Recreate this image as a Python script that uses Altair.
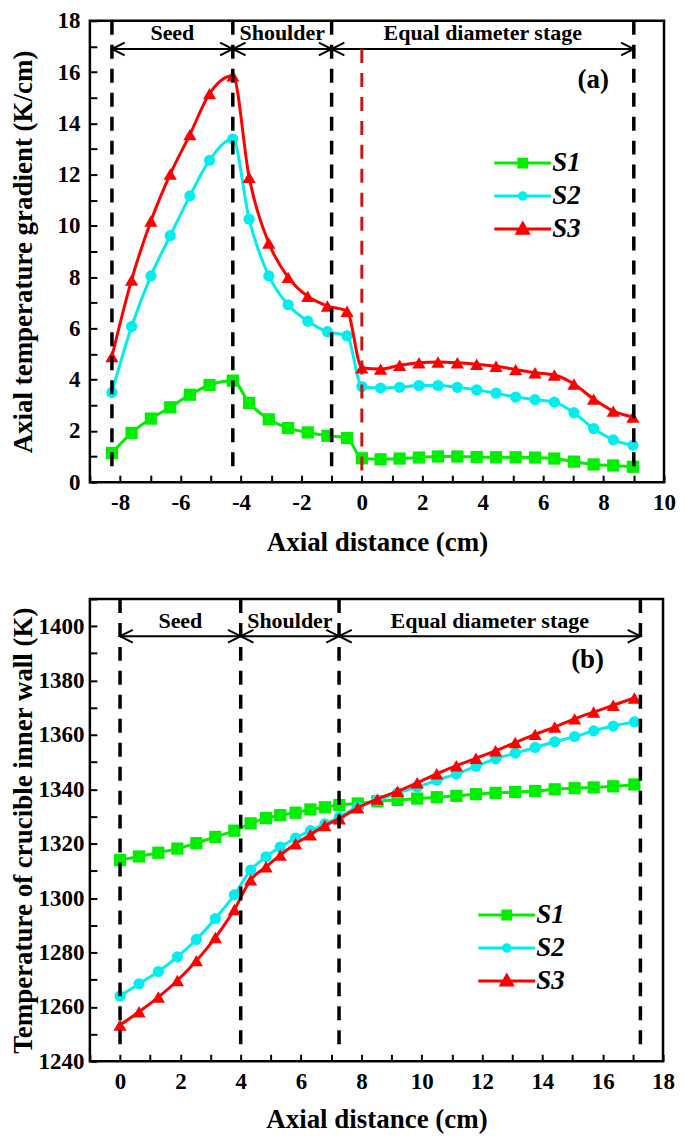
import altair as alt
import pandas as pd

FONT = "Liberation Serif"

# ---------------- data ----------------
series = ["S1", "S2", "S3"]
colors = ["#00EE00", "#00EEEE", "#FF0000"]
marker_shapes = ["square", "circle", "triangle-up"]
marker_sizes = [150, 125, 175]
# legend glyphs: a line with the marker in its middle (marker drawn solid with strokes)
legend_paths = [
    "M-4.75,0H4.75M-0.9,-0.65H0.9M-0.9,-0.22H0.9M-0.9,0.22H0.9M-0.9,0.65H0.9",
    "M-4.75,0H4.75M-0.55,0A0.55,0.55,0,1,1,0.55,0A0.55,0.55,0,1,1,-0.55,0Z"
    "M-0.2,0A0.2,0.2,0,1,1,0.2,0A0.2,0.2,0,1,1,-0.2,0Z",
    "M-4.75,0H4.75M0,-0.9L0.92,0.7H-0.92ZM0,-0.37L0.46,0.43H-0.46Z",
]
stage_names = ["Seed", "Shoulder", "Equal diameter stage"]

# panel (a): axial temperature gradient
xa = [-8.27, -7.62, -6.98, -6.34, -5.69, -5.04, -4.27, -3.73, -3.08, -2.44, -1.79, -1.14, -0.49,
      0.0, 0.62, 1.25, 1.89, 2.52, 3.16, 3.8, 4.44, 5.09, 5.73, 6.37, 7.02, 7.67, 8.32, 8.97]
a_s1 = [1.14, 1.92, 2.48, 2.92, 3.41, 3.79, 3.96, 3.09, 2.45, 2.11, 1.94, 1.81, 1.72,
        0.93, 0.89, 0.92, 0.96, 1.0, 1.0, 0.98, 0.97, 0.97, 0.96, 0.92, 0.80, 0.69, 0.65, 0.60]
a_s2 = [3.50, 6.07, 8.05, 9.62, 11.17, 12.56, 13.39, 10.26, 8.05, 6.92, 6.28, 5.87, 5.71,
        3.73, 3.67, 3.70, 3.77, 3.77, 3.70, 3.60, 3.47, 3.32, 3.22, 3.12, 2.71, 2.09, 1.65, 1.44]
a_s3 = [4.90, 7.89, 10.19, 12.02, 13.56, 15.16, 15.86, 11.90, 9.33, 7.99, 7.25, 6.87, 6.67,
        4.46, 4.41, 4.56, 4.66, 4.69, 4.66, 4.60, 4.52, 4.39, 4.27, 4.18, 3.83, 3.24, 2.77, 2.54]
a_bounds = [-8.27, -4.27, -1.0, 9.0]
a_red = [0.0]

# panel (b): temperature of crucible inner wall
xb = [0.0, 0.63, 1.27, 1.9, 2.53, 3.16, 3.79, 4.33, 4.84, 5.31, 5.82, 6.31, 6.79, 7.27,
      7.88, 8.53, 9.2, 9.85, 10.5, 11.15, 11.8, 12.45, 13.1, 13.76, 14.41, 15.07, 15.7, 16.35, 17.05]
b_s1 = [1314.0, 1315.3, 1316.7, 1318.2, 1320.2, 1322.5, 1324.8, 1327.5, 1329.4, 1330.5, 1331.4, 1332.6,
        1333.4, 1334.2, 1334.8, 1335.6, 1336.1, 1336.6, 1337.1, 1337.6, 1338.2, 1338.7, 1339.0, 1339.4,
        1340.0, 1340.4, 1340.7, 1341.1, 1341.8]
b_s2 = [1264.0, 1268.5, 1273.0, 1278.4, 1284.8, 1292.5, 1301.2, 1310.3, 1315.2, 1318.8, 1322.1, 1324.8,
        1327.3, 1329.8, 1333.6, 1336.0, 1338.7, 1340.8, 1343.3, 1345.7, 1348.5, 1351.2, 1353.3, 1355.4,
        1357.5, 1359.4, 1361.5, 1363.3, 1364.8]
b_s3 = [1253.3, 1258.2, 1263.6, 1269.7, 1277.0, 1285.5, 1295.8, 1306.7, 1311.5, 1315.8, 1320.0, 1323.3,
        1326.7, 1329.2, 1333.2, 1336.4, 1339.3, 1342.4, 1345.7, 1348.7, 1351.4, 1354.2, 1357.2, 1360.2,
        1362.9, 1365.9, 1368.4, 1370.9, 1373.6]
b_bounds = [0.0, 4.0, 7.26, 17.25]
b_red = []


def make_axis(values, step, title, tick_pad, title_pad):
    return alt.Axis(
        values=values,
        labelExpr=f"datum.value % {step} == 0 ? '' + datum.value : ''",
        domain=False, ticks=True, tickSize=7, offset=-7, tickWidth=2, tickColor="black",
        labelPadding=tick_pad, labelFont=FONT, labelFontSize=23, labelFontWeight="bold",
        labelColor="black", labelOverlap=False, labelFlush=False, grid=False,
        title=title, titleFont=FONT, titleFontSize=27, titleFontWeight="bold",
        titleColor="black", titlePadding=title_pad,
    )


def make_panel(xs, s1, s2, s3, xdom, ydom, xvals, yvals, ystep, ytitle, ylpad, ytpad, xtpad,
               bounds, red, vtop, vbottom, red_top, arrow_y, text_y, tag, tag_x, tag_y,
               width, height, legx, legy):
    n = len(xs)
    long = pd.DataFrame({
        "x": xs * 3,
        "y": s1 + s2 + s3,
        "series": [series[0]] * n + [series[1]] * n + [series[2]] * n,
    })
    xsc = alt.Scale(domain=xdom, nice=False, zero=False)
    ysc = alt.Scale(domain=ydom, nice=False, zero=False)
    xaxis = make_axis(xvals, 2, "Axial distance (cm)", 9, xtpad)
    yaxis = make_axis(yvals, ystep, ytitle, ylpad, ytpad)
    X = alt.X("x:Q", scale=xsc, axis=xaxis)
    Y = alt.Y("y:Q", scale=ysc, axis=yaxis)

    layers = []
    for s, c, sh, sz in zip(series, colors, marker_shapes, marker_sizes):
        base = alt.Chart(long).transform_filter(alt.datum.series == s)
        layers.append(base.mark_line(strokeWidth=3, interpolate="monotone", color=c).encode(x=X, y=Y))
        layers.append(base.mark_point(filled=True, shape=sh, size=sz, color=c, opacity=1).encode(x=X, y=Y))

    leg = alt.Legend(
        title=None, orient="none", legendX=legx, legendY=legy, symbolSize=144,
        symbolStrokeWidth=3, symbolOpacity=1, labelFont=FONT, labelFontSize=27,
        labelFontWeight="bold", labelFontStyle="italic", labelColor="black",
        labelOffset=16, rowPadding=5, padding=0,
    )
    legend_layer = alt.Chart(long).transform_filter("false").mark_point(
        filled=False, opacity=1, strokeWidth=3).encode(
        x=X, y=Y,
        color=alt.Color("series:N", scale=alt.Scale(domain=series, range=colors), legend=leg),
        shape=alt.Shape("series:N", scale=alt.Scale(domain=series, range=legend_paths), legend=leg),
    )
    layers.append(legend_layer)

    seg = pd.DataFrame({
        "x0": bounds[:-1],
        "x1": bounds[1:],
        "mid": [(a + b) / 2 for a, b in zip(bounds[:-1], bounds[1:])],
        "label": stage_names,
    })
    ya = alt.Y(datum=arrow_y, scale=ysc, axis=yaxis)
    layers.append(alt.Chart(seg).mark_rule(color="black", strokeWidth=2).encode(
        x=alt.X("x0:Q", scale=xsc, axis=xaxis), x2="x1:Q", y=ya))
    layers.append(alt.Chart(seg).mark_point(shape="M1,-0.5L0,0L1,0.5", size=650, filled=False,
                                            color="black", strokeWidth=2, opacity=1).encode(
        x=alt.X("x0:Q", scale=xsc, axis=xaxis), y=ya))
    layers.append(alt.Chart(seg).mark_point(shape="M-1,-0.5L0,0L-1,0.5", size=650, filled=False,
                                            color="black", strokeWidth=2, opacity=1).encode(
        x=alt.X("x1:Q", scale=xsc, axis=xaxis), y=ya))
    layers.append(alt.Chart(seg).mark_text(font=FONT, fontSize=22, fontWeight="bold",
                                           color="black", baseline="middle").encode(
        x=alt.X("mid:Q", scale=xsc, axis=xaxis), y=alt.Y(datum=text_y, scale=ysc, axis=yaxis),
        text="label:N"))
    layers.append(alt.Chart(pd.DataFrame({"t": [tag]})).mark_text(
        font=FONT, fontSize=27, fontWeight="bold", color="black", baseline="middle").encode(
        x=alt.X(datum=tag_x, scale=xsc, axis=xaxis), y=alt.Y(datum=tag_y, scale=ysc, axis=yaxis),
        text="t:N"))
    layers.append(alt.Chart(pd.DataFrame({"x": bounds})).mark_rule(
        color="black", strokeWidth=3.5, strokeDash=[14, 10]).encode(
        x=alt.X("x:Q", scale=xsc, axis=xaxis), y=alt.Y(datum=vtop, scale=ysc, axis=yaxis),
        y2=alt.datum(vbottom)))
    if red:
        layers.append(alt.Chart(pd.DataFrame({"x": red})).mark_rule(
            color="#C81414", strokeWidth=3, strokeDash=[14, 10]).encode(
            x=alt.X("x:Q", scale=xsc, axis=xaxis), y=alt.Y(datum=red_top, scale=ysc, axis=yaxis),
            y2=alt.datum(vbottom)))
    return alt.layer(*layers).properties(width=width, height=height)


pa = make_panel(xa, a_s1, a_s2, a_s3, [-9, 10], [0, 18], list(range(-9, 11)), list(range(0, 19)), 2,
                "Axial temperature gradient (K/cm)", 10, 19, 15,
                a_bounds, a_red, 18, 0.35, 16.9, 16.9, 17.53, "(a)", 7.66, 15.7,
                575, 462, 420, 129)
pb = make_panel(xb, b_s1, b_s2, b_s3, [-1, 18], [1240, 1410], list(range(-1, 19)), list(range(1240, 1411, 10)), 20,
                "Temperature of crucible inner wall (K)", 6, 0, 13,
                b_bounds, b_red, 1410, 1243.5, 1410, 1396.3, 1401.8, "(b)", 15.5, 1387.5,
                574, 463, 404, 303)

chart = alt.vconcat(pa, pb, spacing=29).resolve_scale(
    color="independent", shape="independent"
).resolve_legend(
    color="independent", shape="independent"
).properties(
    padding={"left": 0, "top": -1, "right": 0, "bottom": 0}
).configure_view(stroke="black", strokeWidth=2.5)

chart.save("out.html", embed_options={"renderer": "svg", "actions": False})
